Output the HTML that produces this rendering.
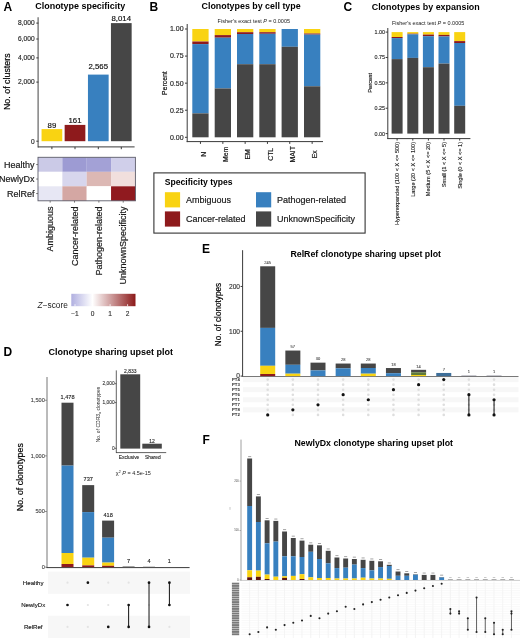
<!DOCTYPE html>
<html><head><meta charset="utf-8"><title>Clonotype figure</title>
<style>
html,body{margin:0;padding:0;background:#fff;}
body{width:520px;height:638px;overflow:hidden;}
svg{display:block;font-family:"Liberation Sans", sans-serif;filter:blur(0.3px);}
text{stroke-linejoin:round;}
text.r{}
</style></head>
<body>
<svg width="520" height="638" viewBox="0 0 520 638">
<rect x="0" y="0" width="520" height="638" fill="#ffffff"/>
<text x="3.40" y="10.80" font-size="12.0" text-anchor="start" fill="#000" font-weight="bold" >A</text>
<text x="35.30" y="9.00" font-size="8.95" text-anchor="start" fill="#000" font-weight="bold" >Clonotype specificity</text>
<line x1="38.10" y1="17.20" x2="38.10" y2="147.40" stroke="#555" stroke-width="1.1"/>
<line x1="36.30" y1="23.10" x2="38.40" y2="23.10" stroke="#3a3a3a" stroke-width="1.0"/>
<text x="34.60" y="25.40" font-size="6.6" text-anchor="end" fill="#222"  stroke="#222" stroke-width="0.141">8,000</text>
<line x1="36.30" y1="39.00" x2="38.40" y2="39.00" stroke="#3a3a3a" stroke-width="1.0"/>
<text x="34.60" y="41.30" font-size="6.6" text-anchor="end" fill="#222"  stroke="#222" stroke-width="0.141">6,000</text>
<line x1="36.30" y1="57.90" x2="38.40" y2="57.90" stroke="#3a3a3a" stroke-width="1.0"/>
<text x="34.60" y="60.20" font-size="6.6" text-anchor="end" fill="#222"  stroke="#222" stroke-width="0.141">4,000</text>
<line x1="36.30" y1="82.10" x2="38.40" y2="82.10" stroke="#3a3a3a" stroke-width="1.0"/>
<text x="34.60" y="84.40" font-size="6.6" text-anchor="end" fill="#222"  stroke="#222" stroke-width="0.141">2,000</text>
<line x1="36.30" y1="141.20" x2="38.40" y2="141.20" stroke="#3a3a3a" stroke-width="1.0"/>
<text x="34.60" y="143.50" font-size="6.6" text-anchor="end" fill="#222"  stroke="#222" stroke-width="0.141">0</text>
<text x="10.19" y="81.70" font-size="8.9" text-anchor="middle" fill="#000" stroke="#000" stroke-width="0.191" transform="rotate(-90 10.19 81.70)">No. of clusters</text>
<line x1="37.90" y1="146.90" x2="134.60" y2="146.90" stroke="#3a3a3a" stroke-width="1.0"/>
<rect x="41.55" y="129.10" width="20.70" height="12.10" fill="#F9D312" />
<line x1="51.90" y1="146.90" x2="51.90" y2="149.20" stroke="#3a3a3a" stroke-width="1.0"/>
<text x="51.90" y="127.60" font-size="7.8" text-anchor="middle" fill="#111"  stroke="#111" stroke-width="0.167">89</text>
<rect x="64.65" y="124.90" width="20.70" height="16.30" fill="#8E1A1C" />
<line x1="75.00" y1="146.90" x2="75.00" y2="149.20" stroke="#3a3a3a" stroke-width="1.0"/>
<text x="75.00" y="123.00" font-size="7.8" text-anchor="middle" fill="#111"  stroke="#111" stroke-width="0.167">161</text>
<rect x="87.95" y="74.60" width="20.70" height="66.60" fill="#3880BF" />
<line x1="98.30" y1="146.90" x2="98.30" y2="149.20" stroke="#3a3a3a" stroke-width="1.0"/>
<text x="98.30" y="68.80" font-size="7.8" text-anchor="middle" fill="#111"  stroke="#111" stroke-width="0.167">2,565</text>
<rect x="110.95" y="23.10" width="20.70" height="118.10" fill="#464646" />
<line x1="121.30" y1="146.90" x2="121.30" y2="149.20" stroke="#3a3a3a" stroke-width="1.0"/>
<text x="121.30" y="21.20" font-size="7.8" text-anchor="middle" fill="#111"  stroke="#111" stroke-width="0.167">8,014</text>
<rect x="38.00" y="157.30" width="24.40" height="14.55" fill="#cbcae7" />
<rect x="62.35" y="157.30" width="24.40" height="14.55" fill="#9d9bd3" />
<rect x="86.70" y="157.30" width="24.40" height="14.55" fill="#a3a1d6" />
<rect x="111.05" y="157.30" width="24.40" height="14.55" fill="#d0cfea" />
<rect x="38.00" y="171.80" width="24.40" height="14.55" fill="#ffffff" />
<rect x="62.35" y="171.80" width="24.40" height="14.55" fill="#d7d6ed" />
<rect x="86.70" y="171.80" width="24.40" height="14.55" fill="#dcb8b4" />
<rect x="111.05" y="171.80" width="24.40" height="14.55" fill="#f1dfdd" />
<rect x="38.00" y="186.30" width="24.40" height="14.55" fill="#e7e7f4" />
<rect x="62.35" y="186.30" width="24.40" height="14.55" fill="#d4a7a3" />
<rect x="86.70" y="186.30" width="24.40" height="14.55" fill="#ffffff" />
<rect x="111.05" y="186.30" width="24.40" height="14.55" fill="#901a1f" />
<rect x="38.00" y="157.30" width="97.40" height="43.50" fill="none" stroke="#5d5d6a" stroke-width="0.9"/>
<line x1="36.20" y1="164.55" x2="38.00" y2="164.55" stroke="#555" stroke-width="0.8"/>
<text x="34.60" y="167.75" font-size="9.0" text-anchor="end" fill="#1a1a1a"  stroke="#1a1a1a" stroke-width="0.193">Healthy</text>
<line x1="36.20" y1="179.05" x2="38.00" y2="179.05" stroke="#555" stroke-width="0.8"/>
<text x="34.60" y="182.25" font-size="9.0" text-anchor="end" fill="#1a1a1a"  stroke="#1a1a1a" stroke-width="0.193">NewlyDx</text>
<line x1="36.20" y1="193.55" x2="38.00" y2="193.55" stroke="#555" stroke-width="0.8"/>
<text x="34.60" y="196.75" font-size="9.0" text-anchor="end" fill="#1a1a1a"  stroke="#1a1a1a" stroke-width="0.193">RelRef</text>
<line x1="50.17" y1="200.80" x2="50.17" y2="202.60" stroke="#555" stroke-width="0.8"/>
<text x="53.40" y="206.40" font-size="9.0" text-anchor="end" fill="#1a1a1a" stroke="#1a1a1a" stroke-width="0.193" transform="rotate(-90 53.40 206.40)">Ambiguous</text>
<line x1="74.53" y1="200.80" x2="74.53" y2="202.60" stroke="#555" stroke-width="0.8"/>
<text x="77.75" y="206.40" font-size="9.0" text-anchor="end" fill="#1a1a1a" stroke="#1a1a1a" stroke-width="0.193" transform="rotate(-90 77.75 206.40)">Cancer-related</text>
<line x1="98.88" y1="200.80" x2="98.88" y2="202.60" stroke="#555" stroke-width="0.8"/>
<text x="102.10" y="206.40" font-size="9.0" text-anchor="end" fill="#1a1a1a" stroke="#1a1a1a" stroke-width="0.193" transform="rotate(-90 102.10 206.40)">Pathogen-related</text>
<line x1="123.23" y1="200.80" x2="123.23" y2="202.60" stroke="#555" stroke-width="0.8"/>
<text x="126.45" y="206.40" font-size="9.0" text-anchor="end" fill="#1a1a1a" stroke="#1a1a1a" stroke-width="0.193" transform="rotate(-90 126.45 206.40)">UnknownSpecificity</text>
<defs><linearGradient id="zg" x1="0" x2="1" y1="0" y2="0"><stop offset="0" stop-color="#b0afe0"/><stop offset="0.33" stop-color="#ffffff"/><stop offset="1" stop-color="#8c1a1a"/></linearGradient></defs>
<rect x="71.30" y="293.80" width="64.20" height="12.40" fill="url(#zg)" />
<line x1="75.00" y1="304.20" x2="75.00" y2="306.20" stroke="#ffffff" stroke-width="0.8"/>
<text x="75.00" y="315.60" font-size="6.6" text-anchor="middle" fill="#333"  stroke="#333" stroke-width="0.141">−1</text>
<line x1="92.60" y1="304.20" x2="92.60" y2="306.20" stroke="#ffffff" stroke-width="0.8"/>
<text x="92.60" y="315.60" font-size="6.6" text-anchor="middle" fill="#333"  stroke="#333" stroke-width="0.141">0</text>
<line x1="110.10" y1="304.20" x2="110.10" y2="306.20" stroke="#ffffff" stroke-width="0.8"/>
<text x="110.10" y="315.60" font-size="6.6" text-anchor="middle" fill="#333"  stroke="#333" stroke-width="0.141">1</text>
<line x1="127.60" y1="304.20" x2="127.60" y2="306.20" stroke="#ffffff" stroke-width="0.8"/>
<text x="127.60" y="315.60" font-size="6.6" text-anchor="middle" fill="#333"  stroke="#333" stroke-width="0.141">2</text>
<text x="37.6" y="308.2" font-size="8.3" fill="#1a1a1a"><tspan font-style="italic">Z</tspan>−score</text>
<text x="149.60" y="10.80" font-size="12.0" text-anchor="start" fill="#000" font-weight="bold" >B</text>
<text x="201.50" y="9.40" font-size="8.9" text-anchor="start" fill="#000" font-weight="bold" >Clonotypes by cell type</text>
<text x="217.6" y="23.4" font-size="5.5" fill="#1a1a1a">Fisher's exact test <tspan font-style="italic">P</tspan> = 0.0005</text>
<line x1="187.20" y1="24.00" x2="187.20" y2="142.10" stroke="#3a3a3a" stroke-width="1.0"/>
<line x1="185.00" y1="29.00" x2="187.20" y2="29.00" stroke="#3a3a3a" stroke-width="1.0"/>
<text x="183.60" y="31.40" font-size="7.0" text-anchor="end" fill="#222"  stroke="#222" stroke-width="0.150">1.00</text>
<line x1="185.00" y1="56.08" x2="187.20" y2="56.08" stroke="#3a3a3a" stroke-width="1.0"/>
<text x="183.60" y="58.48" font-size="7.0" text-anchor="end" fill="#222"  stroke="#222" stroke-width="0.150">0.75</text>
<line x1="185.00" y1="83.15" x2="187.20" y2="83.15" stroke="#3a3a3a" stroke-width="1.0"/>
<text x="183.60" y="85.55" font-size="7.0" text-anchor="end" fill="#222"  stroke="#222" stroke-width="0.150">0.50</text>
<line x1="185.00" y1="110.23" x2="187.20" y2="110.23" stroke="#3a3a3a" stroke-width="1.0"/>
<text x="183.60" y="112.63" font-size="7.0" text-anchor="end" fill="#222"  stroke="#222" stroke-width="0.150">0.25</text>
<line x1="185.00" y1="137.30" x2="187.20" y2="137.30" stroke="#3a3a3a" stroke-width="1.0"/>
<text x="183.60" y="139.70" font-size="7.0" text-anchor="end" fill="#222"  stroke="#222" stroke-width="0.150">0.00</text>
<text x="167.37" y="83.10" font-size="6.9" text-anchor="middle" fill="#000" stroke="#000" stroke-width="0.148" transform="rotate(-90 167.37 83.10)">Percent</text>
<line x1="186.70" y1="141.60" x2="323.00" y2="141.60" stroke="#3a3a3a" stroke-width="1.0"/>
<rect x="192.30" y="29.00" width="16.30" height="12.50" fill="#F9D312" />
<rect x="192.30" y="41.50" width="16.30" height="2.60" fill="#8E1A1C" />
<rect x="192.30" y="44.10" width="16.30" height="69.27" fill="#3880BF" />
<rect x="192.30" y="113.37" width="16.30" height="23.93" fill="#464646" />
<line x1="200.45" y1="141.60" x2="200.45" y2="143.90" stroke="#3a3a3a" stroke-width="1.0"/>
<text x="205.62" y="154.30" font-size="6.9" text-anchor="middle" fill="#111" stroke="#111" stroke-width="0.148" transform="rotate(-90 205.62 154.30)">N</text>
<rect x="214.70" y="29.00" width="16.30" height="6.10" fill="#F9D312" />
<rect x="214.70" y="35.10" width="16.30" height="2.60" fill="#8E1A1C" />
<rect x="214.70" y="37.70" width="16.30" height="50.76" fill="#3880BF" />
<rect x="214.70" y="88.46" width="16.30" height="48.84" fill="#464646" />
<line x1="222.85" y1="141.60" x2="222.85" y2="143.90" stroke="#3a3a3a" stroke-width="1.0"/>
<text x="228.02" y="154.30" font-size="6.9" text-anchor="middle" fill="#111" stroke="#111" stroke-width="0.148" transform="rotate(-90 228.02 154.30)">Mem</text>
<rect x="237.00" y="29.00" width="16.30" height="3.19" fill="#F9D312" />
<rect x="237.00" y="32.19" width="16.30" height="1.81" fill="#8E1A1C" />
<rect x="237.00" y="34.00" width="16.30" height="30.19" fill="#3880BF" />
<rect x="237.00" y="64.20" width="16.30" height="73.10" fill="#464646" />
<line x1="245.15" y1="141.60" x2="245.15" y2="143.90" stroke="#3a3a3a" stroke-width="1.0"/>
<text x="250.32" y="154.30" font-size="6.9" text-anchor="middle" fill="#111" stroke="#111" stroke-width="0.148" transform="rotate(-90 250.32 154.30)">EM</text>
<rect x="259.30" y="29.00" width="16.30" height="3.19" fill="#F9D312" />
<rect x="259.30" y="32.19" width="16.30" height="1.60" fill="#8E1A1C" />
<rect x="259.30" y="33.80" width="16.30" height="30.40" fill="#3880BF" />
<rect x="259.30" y="64.20" width="16.30" height="73.10" fill="#464646" />
<line x1="267.45" y1="141.60" x2="267.45" y2="143.90" stroke="#3a3a3a" stroke-width="1.0"/>
<text x="272.62" y="154.30" font-size="6.9" text-anchor="middle" fill="#111" stroke="#111" stroke-width="0.148" transform="rotate(-90 272.62 154.30)">CTL</text>
<rect x="281.60" y="29.00" width="16.30" height="17.79" fill="#3880BF" />
<rect x="281.60" y="46.79" width="16.30" height="90.51" fill="#464646" />
<line x1="289.75" y1="141.60" x2="289.75" y2="143.90" stroke="#3a3a3a" stroke-width="1.0"/>
<text x="294.92" y="154.30" font-size="6.9" text-anchor="middle" fill="#111" stroke="#111" stroke-width="0.148" transform="rotate(-90 294.92 154.30)">MAIT</text>
<rect x="304.00" y="29.00" width="16.30" height="4.51" fill="#F9D312" />
<rect x="304.00" y="33.51" width="16.30" height="1.09" fill="#8E1A1C" />
<rect x="304.00" y="34.60" width="16.30" height="51.70" fill="#3880BF" />
<rect x="304.00" y="86.30" width="16.30" height="51.00" fill="#464646" />
<line x1="312.15" y1="141.60" x2="312.15" y2="143.90" stroke="#3a3a3a" stroke-width="1.0"/>
<text x="317.32" y="154.30" font-size="6.9" text-anchor="middle" fill="#111" stroke="#111" stroke-width="0.148" transform="rotate(-90 317.32 154.30)">Ex</text>
<text x="343.40" y="10.80" font-size="12.0" text-anchor="start" fill="#000" font-weight="bold" >C</text>
<text x="371.70" y="9.80" font-size="8.94" text-anchor="start" fill="#000" font-weight="bold" >Clonotypes by expansion</text>
<text x="391.9" y="25.0" font-size="5.5" fill="#1a1a1a">Fisher's exact test <tspan font-style="italic">P</tspan> = 0.0005</text>
<line x1="387.80" y1="28.00" x2="387.80" y2="139.00" stroke="#3a3a3a" stroke-width="1.0"/>
<line x1="385.60" y1="32.10" x2="387.80" y2="32.10" stroke="#3a3a3a" stroke-width="1.0"/>
<text x="384.90" y="34.00" font-size="5.4" text-anchor="end" fill="#222"  stroke="#222" stroke-width="0.116">1.00</text>
<line x1="385.60" y1="57.47" x2="387.80" y2="57.47" stroke="#3a3a3a" stroke-width="1.0"/>
<text x="384.90" y="59.37" font-size="5.4" text-anchor="end" fill="#222"  stroke="#222" stroke-width="0.116">0.75</text>
<line x1="385.60" y1="82.85" x2="387.80" y2="82.85" stroke="#3a3a3a" stroke-width="1.0"/>
<text x="384.90" y="84.75" font-size="5.4" text-anchor="end" fill="#222"  stroke="#222" stroke-width="0.116">0.50</text>
<line x1="385.60" y1="108.22" x2="387.80" y2="108.22" stroke="#3a3a3a" stroke-width="1.0"/>
<text x="384.90" y="110.12" font-size="5.4" text-anchor="end" fill="#222"  stroke="#222" stroke-width="0.116">0.25</text>
<line x1="385.60" y1="133.60" x2="387.80" y2="133.60" stroke="#3a3a3a" stroke-width="1.0"/>
<text x="384.90" y="135.50" font-size="5.4" text-anchor="end" fill="#222"  stroke="#222" stroke-width="0.116">0.00</text>
<text x="371.98" y="82.80" font-size="5.8" text-anchor="middle" fill="#000" stroke="#000" stroke-width="0.124" transform="rotate(-90 371.98 82.80)">Percent</text>
<line x1="387.30" y1="138.60" x2="470.40" y2="138.60" stroke="#3a3a3a" stroke-width="1.0"/>
<rect x="391.60" y="32.10" width="11.00" height="4.90" fill="#F9D312" />
<rect x="391.60" y="37.00" width="11.00" height="1.10" fill="#8E1A1C" />
<rect x="391.60" y="38.10" width="11.00" height="21.00" fill="#3880BF" />
<rect x="391.60" y="59.10" width="11.00" height="74.50" fill="#464646" />
<line x1="397.10" y1="138.60" x2="397.10" y2="140.60" stroke="#3a3a3a" stroke-width="1.0"/>
<text x="399.10" y="141.90" font-size="5.6" text-anchor="end" fill="#222" stroke="#222" stroke-width="0.120" transform="rotate(-90 399.10 141.90)">Hyperexpanded (100 &lt; X &lt;= 500)</text>
<rect x="407.30" y="32.10" width="11.00" height="1.60" fill="#F9D312" />
<rect x="407.30" y="33.70" width="11.00" height="0.63" fill="#8E1A1C" />
<rect x="407.30" y="34.33" width="11.00" height="23.57" fill="#3880BF" />
<rect x="407.30" y="57.90" width="11.00" height="75.70" fill="#464646" />
<line x1="412.80" y1="138.60" x2="412.80" y2="140.60" stroke="#3a3a3a" stroke-width="1.0"/>
<text x="414.80" y="141.90" font-size="5.6" text-anchor="end" fill="#222" stroke="#222" stroke-width="0.120" transform="rotate(-90 414.80 141.90)">Large (20 &lt; X &lt;= 100)</text>
<rect x="422.90" y="32.10" width="11.00" height="2.50" fill="#F9D312" />
<rect x="422.90" y="34.60" width="11.00" height="1.60" fill="#8E1A1C" />
<rect x="422.90" y="36.20" width="11.00" height="31.00" fill="#3880BF" />
<rect x="422.90" y="67.20" width="11.00" height="66.40" fill="#464646" />
<line x1="428.40" y1="138.60" x2="428.40" y2="140.60" stroke="#3a3a3a" stroke-width="1.0"/>
<text x="430.40" y="141.90" font-size="5.6" text-anchor="end" fill="#222" stroke="#222" stroke-width="0.120" transform="rotate(-90 430.40 141.90)">Medium (5 &lt; X &lt;= 20)</text>
<rect x="438.50" y="32.10" width="11.00" height="2.80" fill="#F9D312" />
<rect x="438.50" y="34.90" width="11.00" height="1.59" fill="#8E1A1C" />
<rect x="438.50" y="36.49" width="11.00" height="27.10" fill="#3880BF" />
<rect x="438.50" y="63.60" width="11.00" height="70.00" fill="#464646" />
<line x1="444.00" y1="138.60" x2="444.00" y2="140.60" stroke="#3a3a3a" stroke-width="1.0"/>
<text x="446.00" y="141.90" font-size="5.6" text-anchor="end" fill="#222" stroke="#222" stroke-width="0.120" transform="rotate(-90 446.00 141.90)">Small (1 &lt; X &lt;= 5)</text>
<rect x="454.20" y="32.10" width="11.00" height="9.00" fill="#F9D312" />
<rect x="454.20" y="41.10" width="11.00" height="1.90" fill="#8E1A1C" />
<rect x="454.20" y="43.00" width="11.00" height="62.80" fill="#3880BF" />
<rect x="454.20" y="105.80" width="11.00" height="27.80" fill="#464646" />
<line x1="459.70" y1="138.60" x2="459.70" y2="140.60" stroke="#3a3a3a" stroke-width="1.0"/>
<text x="461.70" y="141.90" font-size="5.6" text-anchor="end" fill="#222" stroke="#222" stroke-width="0.120" transform="rotate(-90 461.70 141.90)">Single (0 &lt; X &lt;= 1)</text>
<rect x="153.9" y="172.9" width="211.2" height="60.2" fill="none" stroke="#333" stroke-width="1.1"/>
<text x="164.80" y="184.60" font-size="8.6" text-anchor="start" fill="#000" font-weight="bold" >Specificity types</text>
<rect x="164.90" y="192.20" width="15.20" height="15.20" fill="#F9D312" />
<text x="185.90" y="203.00" font-size="9.0" text-anchor="start" fill="#1a1a1a"  stroke="#1a1a1a" stroke-width="0.193">Ambiguous</text>
<rect x="164.90" y="211.40" width="15.20" height="15.20" fill="#8E1A1C" />
<text x="185.90" y="222.20" font-size="9.0" text-anchor="start" fill="#1a1a1a"  stroke="#1a1a1a" stroke-width="0.193">Cancer-related</text>
<rect x="256.00" y="192.20" width="15.20" height="15.20" fill="#3880BF" />
<text x="277.00" y="203.00" font-size="9.0" text-anchor="start" fill="#1a1a1a"  stroke="#1a1a1a" stroke-width="0.193">Pathogen-related</text>
<rect x="256.00" y="211.40" width="15.20" height="15.20" fill="#464646" />
<text x="277.00" y="222.20" font-size="9.0" text-anchor="start" fill="#1a1a1a"  stroke="#1a1a1a" stroke-width="0.193">UnknownSpecificity</text>
<text x="3.60" y="356.40" font-size="12.0" text-anchor="start" fill="#000" font-weight="bold" >D</text>
<text x="48.60" y="355.30" font-size="9.0" text-anchor="start" fill="#000" font-weight="bold" >Clonotype sharing upset plot</text>
<line x1="47.00" y1="377.00" x2="47.00" y2="568.00" stroke="#777" stroke-width="1.0"/>
<line x1="45.00" y1="400.25" x2="47.00" y2="400.25" stroke="#777" stroke-width="0.8"/>
<text x="44.80" y="402.25" font-size="5.6" text-anchor="end" fill="#444"  stroke="#444" stroke-width="0.120">1,500</text>
<line x1="45.00" y1="455.87" x2="47.00" y2="455.87" stroke="#777" stroke-width="0.8"/>
<text x="44.80" y="457.87" font-size="5.6" text-anchor="end" fill="#444"  stroke="#444" stroke-width="0.120">1,000</text>
<line x1="45.00" y1="511.49" x2="47.00" y2="511.49" stroke="#777" stroke-width="0.8"/>
<text x="44.80" y="513.49" font-size="5.6" text-anchor="end" fill="#444"  stroke="#444" stroke-width="0.120">500</text>
<line x1="45.00" y1="567.10" x2="47.00" y2="567.10" stroke="#777" stroke-width="0.8"/>
<text x="44.80" y="569.10" font-size="5.6" text-anchor="end" fill="#444"  stroke="#444" stroke-width="0.120">0</text>
<text x="23.25" y="477.20" font-size="8.8" text-anchor="middle" fill="#000" stroke="#000" stroke-width="0.189" transform="rotate(-90 23.25 477.20)">No. of clonotypes</text>
<line x1="46.50" y1="567.60" x2="189.60" y2="567.60" stroke="#3a3a3a" stroke-width="1.0"/>
<rect x="61.50" y="402.70" width="12.00" height="62.90" fill="#464646" />
<rect x="61.50" y="465.60" width="12.00" height="87.40" fill="#3880BF" />
<rect x="61.50" y="553.00" width="12.00" height="11.00" fill="#F9D312" />
<rect x="61.50" y="564.00" width="12.00" height="3.10" fill="#8E1A1C" />
<text x="67.50" y="398.80" font-size="5.6" text-anchor="middle" fill="#222"  stroke="#222" stroke-width="0.120">1,478</text>
<rect x="82.20" y="485.12" width="12.00" height="26.98" fill="#464646" />
<rect x="82.20" y="512.10" width="12.00" height="45.60" fill="#3880BF" />
<rect x="82.20" y="557.70" width="12.00" height="7.70" fill="#F9D312" />
<rect x="82.20" y="565.40" width="12.00" height="1.70" fill="#8E1A1C" />
<text x="88.20" y="481.40" font-size="5.6" text-anchor="middle" fill="#222"  stroke="#222" stroke-width="0.120">737</text>
<rect x="102.10" y="520.61" width="12.00" height="17.09" fill="#464646" />
<rect x="102.10" y="537.70" width="12.00" height="24.90" fill="#3880BF" />
<rect x="102.10" y="562.60" width="12.00" height="3.20" fill="#F9D312" />
<rect x="102.10" y="565.80" width="12.00" height="1.30" fill="#8E1A1C" />
<text x="108.10" y="516.60" font-size="5.6" text-anchor="middle" fill="#222"  stroke="#222" stroke-width="0.120">418</text>
<rect x="122.60" y="566.32" width="12.00" height="0.78" fill="#7a7a7a" />
<text x="128.60" y="563.00" font-size="5.6" text-anchor="middle" fill="#222"  stroke="#222" stroke-width="0.120">7</text>
<rect x="143.00" y="566.66" width="12.00" height="0.44" fill="#7a7a7a" />
<text x="149.00" y="563.00" font-size="5.6" text-anchor="middle" fill="#222"  stroke="#222" stroke-width="0.120">4</text>
<rect x="163.40" y="566.99" width="12.00" height="0.11" fill="#7a7a7a" />
<text x="169.40" y="563.00" font-size="5.6" text-anchor="middle" fill="#222"  stroke="#222" stroke-width="0.120">1</text>
<rect x="48.00" y="571.60" width="142.00" height="22.20" fill="#f7f7f7" />
<rect x="48.00" y="615.70" width="142.00" height="22.30" fill="#f7f7f7" />
<text x="33.20" y="584.80" font-size="6.1" text-anchor="middle" fill="#1a1a1a"  stroke="#1a1a1a" stroke-width="0.131">Healthy</text>
<text x="33.20" y="607.10" font-size="6.1" text-anchor="middle" fill="#1a1a1a"  stroke="#1a1a1a" stroke-width="0.131">NewlyDx</text>
<text x="33.20" y="629.00" font-size="6.1" text-anchor="middle" fill="#1a1a1a"  stroke="#1a1a1a" stroke-width="0.131">RelRef</text>
<circle cx="67.50" cy="582.70" r="1.1" fill="#e3e3e3"/>
<circle cx="67.50" cy="626.90" r="1.1" fill="#e3e3e3"/>
<circle cx="67.50" cy="605.00" r="1.35" fill="#111"/>
<circle cx="87.88" cy="605.00" r="1.1" fill="#e3e3e3"/>
<circle cx="87.88" cy="626.90" r="1.1" fill="#e3e3e3"/>
<circle cx="87.88" cy="582.70" r="1.35" fill="#111"/>
<circle cx="108.26" cy="582.70" r="1.1" fill="#e3e3e3"/>
<circle cx="108.26" cy="605.00" r="1.1" fill="#e3e3e3"/>
<circle cx="108.26" cy="626.90" r="1.35" fill="#111"/>
<circle cx="128.64" cy="582.70" r="1.1" fill="#e3e3e3"/>
<line x1="128.64" y1="605.00" x2="128.64" y2="626.90" stroke="#111" stroke-width="1.0"/>
<circle cx="128.64" cy="605.00" r="1.35" fill="#111"/>
<circle cx="128.64" cy="626.90" r="1.35" fill="#111"/>
<circle cx="149.02" cy="605.00" r="1.1" fill="#e3e3e3"/>
<line x1="149.02" y1="582.70" x2="149.02" y2="626.90" stroke="#111" stroke-width="1.0"/>
<circle cx="149.02" cy="582.70" r="1.35" fill="#111"/>
<circle cx="149.02" cy="626.90" r="1.35" fill="#111"/>
<circle cx="169.40" cy="626.90" r="1.1" fill="#e3e3e3"/>
<line x1="169.40" y1="582.70" x2="169.40" y2="605.00" stroke="#111" stroke-width="1.0"/>
<circle cx="169.40" cy="582.70" r="1.35" fill="#111"/>
<circle cx="169.40" cy="605.00" r="1.35" fill="#111"/>
<line x1="116.30" y1="370.40" x2="116.30" y2="452.90" stroke="#3a3a3a" stroke-width="0.8"/>
<line x1="116.00" y1="452.60" x2="166.20" y2="452.60" stroke="#3a3a3a" stroke-width="0.8"/>
<line x1="114.80" y1="383.70" x2="116.30" y2="383.70" stroke="#3a3a3a" stroke-width="0.8"/>
<text x="114.60" y="385.40" font-size="4.8" text-anchor="end" fill="#333"  stroke="#333" stroke-width="0.103">2,000</text>
<line x1="114.80" y1="402.60" x2="116.30" y2="402.60" stroke="#3a3a3a" stroke-width="0.8"/>
<text x="114.60" y="404.30" font-size="4.8" text-anchor="end" fill="#333"  stroke="#333" stroke-width="0.103">1,000</text>
<line x1="114.80" y1="448.30" x2="116.30" y2="448.30" stroke="#3a3a3a" stroke-width="0.8"/>
<text x="114.60" y="450.00" font-size="4.8" text-anchor="end" fill="#333"  stroke="#333" stroke-width="0.103">0</text>
<rect x="120.30" y="374.30" width="19.90" height="74.30" fill="#464646" />
<rect x="142.30" y="443.70" width="19.50" height="4.90" fill="#464646" />
<text x="130.25" y="373.10" font-size="5.0" text-anchor="middle" fill="#222"  stroke="#222" stroke-width="0.107">2,833</text>
<text x="152.05" y="442.50" font-size="5.0" text-anchor="middle" fill="#222"  stroke="#222" stroke-width="0.107">12</text>
<text x="129.00" y="458.90" font-size="4.9" text-anchor="middle" fill="#222"  stroke="#222" stroke-width="0.105">Exclusive</text>
<text x="152.80" y="458.90" font-size="4.9" text-anchor="middle" fill="#222"  stroke="#222" stroke-width="0.105">Shared</text>
<text x="99.6" y="414.5" font-size="5.0" text-anchor="middle" fill="#222" transform="rotate(-90 99.6 414.5)">No. of CDR3<tspan font-size="3.4" dy="1">α</tspan><tspan dy="-1"> clonotypes</tspan></text>
<text x="115.8" y="475.2" font-size="5.5" fill="#222">χ<tspan font-size="3.6" dy="-2">2</tspan><tspan dy="2" font-style="italic"> P</tspan> = 4.5e-15</text>
<text x="202.00" y="253.30" font-size="12.0" text-anchor="start" fill="#000" font-weight="bold" >E</text>
<text x="290.40" y="256.60" font-size="8.8" text-anchor="start" fill="#000" font-weight="bold" >RelRef clonotype sharing upset plot</text>
<line x1="242.60" y1="250.20" x2="242.60" y2="376.60" stroke="#3a3a3a" stroke-width="1.0"/>
<line x1="240.60" y1="286.46" x2="242.60" y2="286.46" stroke="#3a3a3a" stroke-width="1.0"/>
<text x="240.00" y="288.76" font-size="6.6" text-anchor="end" fill="#333"  stroke="#333" stroke-width="0.141">200</text>
<line x1="240.60" y1="331.28" x2="242.60" y2="331.28" stroke="#3a3a3a" stroke-width="1.0"/>
<text x="240.00" y="333.58" font-size="6.6" text-anchor="end" fill="#333"  stroke="#333" stroke-width="0.141">100</text>
<line x1="240.60" y1="376.10" x2="242.60" y2="376.10" stroke="#3a3a3a" stroke-width="1.0"/>
<text x="240.00" y="378.40" font-size="6.6" text-anchor="end" fill="#333"  stroke="#333" stroke-width="0.141">0</text>
<text x="220.94" y="314.50" font-size="8.2" text-anchor="middle" fill="#000" stroke="#000" stroke-width="0.176" transform="rotate(-90 220.94 314.50)">No. of clonotypes</text>
<line x1="242.10" y1="376.50" x2="518.50" y2="376.50" stroke="#555" stroke-width="0.8"/>
<rect x="260.20" y="266.29" width="15.00" height="61.61" fill="#464646" />
<rect x="260.20" y="327.90" width="15.00" height="37.90" fill="#3880BF" />
<rect x="260.20" y="365.80" width="15.00" height="8.20" fill="#F9D312" />
<rect x="260.20" y="374.00" width="15.00" height="2.10" fill="#8E1A1C" />
<text x="267.70" y="264.09" font-size="4.0" text-anchor="middle" fill="#444"  stroke="#444" stroke-width="0.086">245</text>
<rect x="285.35" y="350.55" width="15.00" height="14.25" fill="#464646" />
<rect x="285.35" y="364.80" width="15.00" height="8.90" fill="#3880BF" />
<rect x="285.35" y="373.70" width="15.00" height="2.40" fill="#F9D312" />
<text x="292.85" y="348.35" font-size="4.0" text-anchor="middle" fill="#444"  stroke="#444" stroke-width="0.086">57</text>
<rect x="310.50" y="362.65" width="15.00" height="7.75" fill="#464646" />
<rect x="310.50" y="370.40" width="15.00" height="5.70" fill="#3880BF" />
<text x="318.00" y="360.45" font-size="4.0" text-anchor="middle" fill="#444"  stroke="#444" stroke-width="0.086">30</text>
<rect x="335.65" y="363.55" width="15.00" height="4.75" fill="#464646" />
<rect x="335.65" y="368.30" width="15.00" height="7.80" fill="#3880BF" />
<text x="343.15" y="361.35" font-size="4.0" text-anchor="middle" fill="#444"  stroke="#444" stroke-width="0.086">28</text>
<rect x="360.80" y="363.55" width="15.00" height="4.45" fill="#464646" />
<rect x="360.80" y="368.00" width="15.00" height="5.70" fill="#3880BF" />
<rect x="360.80" y="373.70" width="15.00" height="2.40" fill="#F9D312" />
<text x="368.30" y="361.35" font-size="4.0" text-anchor="middle" fill="#444"  stroke="#444" stroke-width="0.086">28</text>
<rect x="385.95" y="368.03" width="15.00" height="5.17" fill="#464646" />
<rect x="385.95" y="373.20" width="15.00" height="2.90" fill="#3880BF" />
<text x="393.45" y="365.83" font-size="4.0" text-anchor="middle" fill="#444"  stroke="#444" stroke-width="0.086">18</text>
<rect x="411.10" y="369.83" width="15.00" height="2.47" fill="#464646" />
<rect x="411.10" y="372.30" width="15.00" height="2.70" fill="#5f7a3a" />
<rect x="411.10" y="375.00" width="15.00" height="1.10" fill="#F9D312" />
<text x="418.60" y="367.63" font-size="4.0" text-anchor="middle" fill="#444"  stroke="#444" stroke-width="0.086">14</text>
<rect x="436.25" y="372.96" width="15.00" height="3.14" fill="#3d6e99" />
<text x="443.75" y="370.76" font-size="4.0" text-anchor="middle" fill="#444"  stroke="#444" stroke-width="0.086">7</text>
<rect x="461.40" y="375.65" width="15.00" height="0.45" fill="#667" />
<text x="468.90" y="373.45" font-size="4.0" text-anchor="middle" fill="#444"  stroke="#444" stroke-width="0.086">1</text>
<rect x="486.55" y="375.65" width="15.00" height="0.45" fill="#667" />
<text x="494.05" y="373.45" font-size="4.0" text-anchor="middle" fill="#444"  stroke="#444" stroke-width="0.086">1</text>
<rect x="243.00" y="377.08" width="275.50" height="5.04" fill="#f7f7f7" />
<rect x="243.00" y="387.16" width="275.50" height="5.04" fill="#f7f7f7" />
<rect x="243.00" y="397.24" width="275.50" height="5.04" fill="#f7f7f7" />
<rect x="243.00" y="407.32" width="275.50" height="5.04" fill="#f7f7f7" />
<text x="239.80" y="381.20" font-size="4.3" text-anchor="end" fill="#222" font-weight="bold" >PT4</text>
<text x="239.80" y="386.24" font-size="4.3" text-anchor="end" fill="#222" font-weight="bold" >PT3</text>
<text x="239.80" y="391.28" font-size="4.3" text-anchor="end" fill="#222" font-weight="bold" >PT5</text>
<text x="239.80" y="396.32" font-size="4.3" text-anchor="end" fill="#222" font-weight="bold" >PT6</text>
<text x="239.80" y="401.36" font-size="4.3" text-anchor="end" fill="#222" font-weight="bold" >PT1</text>
<text x="239.80" y="406.40" font-size="4.3" text-anchor="end" fill="#222" font-weight="bold" >PT7</text>
<text x="239.80" y="411.44" font-size="4.3" text-anchor="end" fill="#222" font-weight="bold" >PT8</text>
<text x="239.80" y="416.48" font-size="4.3" text-anchor="end" fill="#222" font-weight="bold" >PT2</text>
<circle cx="267.70" cy="379.60" r="1.3" fill="#dedede"/>
<circle cx="267.70" cy="384.64" r="1.3" fill="#dedede"/>
<circle cx="267.70" cy="389.68" r="1.3" fill="#dedede"/>
<circle cx="267.70" cy="394.72" r="1.3" fill="#dedede"/>
<circle cx="267.70" cy="399.76" r="1.3" fill="#dedede"/>
<circle cx="267.70" cy="404.80" r="1.3" fill="#dedede"/>
<circle cx="267.70" cy="409.84" r="1.3" fill="#dedede"/>
<circle cx="267.70" cy="414.88" r="1.6" fill="#111"/>
<circle cx="292.85" cy="379.60" r="1.3" fill="#dedede"/>
<circle cx="292.85" cy="384.64" r="1.3" fill="#dedede"/>
<circle cx="292.85" cy="389.68" r="1.3" fill="#dedede"/>
<circle cx="292.85" cy="394.72" r="1.3" fill="#dedede"/>
<circle cx="292.85" cy="399.76" r="1.3" fill="#dedede"/>
<circle cx="292.85" cy="404.80" r="1.3" fill="#dedede"/>
<circle cx="292.85" cy="414.88" r="1.3" fill="#dedede"/>
<circle cx="292.85" cy="409.84" r="1.6" fill="#111"/>
<circle cx="318.00" cy="379.60" r="1.3" fill="#dedede"/>
<circle cx="318.00" cy="384.64" r="1.3" fill="#dedede"/>
<circle cx="318.00" cy="389.68" r="1.3" fill="#dedede"/>
<circle cx="318.00" cy="394.72" r="1.3" fill="#dedede"/>
<circle cx="318.00" cy="399.76" r="1.3" fill="#dedede"/>
<circle cx="318.00" cy="409.84" r="1.3" fill="#dedede"/>
<circle cx="318.00" cy="414.88" r="1.3" fill="#dedede"/>
<circle cx="318.00" cy="404.80" r="1.6" fill="#111"/>
<circle cx="343.15" cy="379.60" r="1.3" fill="#dedede"/>
<circle cx="343.15" cy="384.64" r="1.3" fill="#dedede"/>
<circle cx="343.15" cy="389.68" r="1.3" fill="#dedede"/>
<circle cx="343.15" cy="399.76" r="1.3" fill="#dedede"/>
<circle cx="343.15" cy="404.80" r="1.3" fill="#dedede"/>
<circle cx="343.15" cy="409.84" r="1.3" fill="#dedede"/>
<circle cx="343.15" cy="414.88" r="1.3" fill="#dedede"/>
<circle cx="343.15" cy="394.72" r="1.6" fill="#111"/>
<circle cx="368.30" cy="379.60" r="1.3" fill="#dedede"/>
<circle cx="368.30" cy="384.64" r="1.3" fill="#dedede"/>
<circle cx="368.30" cy="389.68" r="1.3" fill="#dedede"/>
<circle cx="368.30" cy="394.72" r="1.3" fill="#dedede"/>
<circle cx="368.30" cy="404.80" r="1.3" fill="#dedede"/>
<circle cx="368.30" cy="409.84" r="1.3" fill="#dedede"/>
<circle cx="368.30" cy="414.88" r="1.3" fill="#dedede"/>
<circle cx="368.30" cy="399.76" r="1.6" fill="#111"/>
<circle cx="393.45" cy="379.60" r="1.3" fill="#dedede"/>
<circle cx="393.45" cy="384.64" r="1.3" fill="#dedede"/>
<circle cx="393.45" cy="394.72" r="1.3" fill="#dedede"/>
<circle cx="393.45" cy="399.76" r="1.3" fill="#dedede"/>
<circle cx="393.45" cy="404.80" r="1.3" fill="#dedede"/>
<circle cx="393.45" cy="409.84" r="1.3" fill="#dedede"/>
<circle cx="393.45" cy="414.88" r="1.3" fill="#dedede"/>
<circle cx="393.45" cy="389.68" r="1.6" fill="#111"/>
<circle cx="418.60" cy="379.60" r="1.3" fill="#dedede"/>
<circle cx="418.60" cy="389.68" r="1.3" fill="#dedede"/>
<circle cx="418.60" cy="394.72" r="1.3" fill="#dedede"/>
<circle cx="418.60" cy="399.76" r="1.3" fill="#dedede"/>
<circle cx="418.60" cy="404.80" r="1.3" fill="#dedede"/>
<circle cx="418.60" cy="409.84" r="1.3" fill="#dedede"/>
<circle cx="418.60" cy="414.88" r="1.3" fill="#dedede"/>
<circle cx="418.60" cy="384.64" r="1.6" fill="#111"/>
<circle cx="443.75" cy="384.64" r="1.3" fill="#dedede"/>
<circle cx="443.75" cy="389.68" r="1.3" fill="#dedede"/>
<circle cx="443.75" cy="394.72" r="1.3" fill="#dedede"/>
<circle cx="443.75" cy="399.76" r="1.3" fill="#dedede"/>
<circle cx="443.75" cy="404.80" r="1.3" fill="#dedede"/>
<circle cx="443.75" cy="409.84" r="1.3" fill="#dedede"/>
<circle cx="443.75" cy="414.88" r="1.3" fill="#dedede"/>
<circle cx="443.75" cy="379.60" r="1.6" fill="#111"/>
<circle cx="468.90" cy="379.60" r="1.3" fill="#dedede"/>
<circle cx="468.90" cy="384.64" r="1.3" fill="#dedede"/>
<circle cx="468.90" cy="389.68" r="1.3" fill="#dedede"/>
<circle cx="468.90" cy="399.76" r="1.3" fill="#dedede"/>
<circle cx="468.90" cy="404.80" r="1.3" fill="#dedede"/>
<circle cx="468.90" cy="409.84" r="1.3" fill="#dedede"/>
<line x1="468.90" y1="394.72" x2="468.90" y2="414.88" stroke="#111" stroke-width="1.0"/>
<circle cx="468.90" cy="394.72" r="1.6" fill="#111"/>
<circle cx="468.90" cy="414.88" r="1.6" fill="#111"/>
<circle cx="494.05" cy="379.60" r="1.3" fill="#dedede"/>
<circle cx="494.05" cy="384.64" r="1.3" fill="#dedede"/>
<circle cx="494.05" cy="389.68" r="1.3" fill="#dedede"/>
<circle cx="494.05" cy="394.72" r="1.3" fill="#dedede"/>
<circle cx="494.05" cy="404.80" r="1.3" fill="#dedede"/>
<circle cx="494.05" cy="409.84" r="1.3" fill="#dedede"/>
<line x1="494.05" y1="399.76" x2="494.05" y2="414.88" stroke="#111" stroke-width="1.0"/>
<circle cx="494.05" cy="399.76" r="1.6" fill="#111"/>
<circle cx="494.05" cy="414.88" r="1.6" fill="#111"/>
<text x="202.40" y="444.20" font-size="12.0" text-anchor="start" fill="#000" font-weight="bold" >F</text>
<text x="294.50" y="445.90" font-size="8.75" text-anchor="start" fill="#000" font-weight="bold" >NewlyDx clonotype sharing upset plot</text>
<line x1="241.00" y1="439.60" x2="241.00" y2="580.50" stroke="#888" stroke-width="0.8"/>
<line x1="239.50" y1="481.10" x2="241.00" y2="481.10" stroke="#888" stroke-width="0.6"/>
<text x="238.60" y="482.00" font-size="2.6" text-anchor="end" fill="#777"  stroke="#777" stroke-width="0.056">200</text>
<line x1="239.50" y1="530.50" x2="241.00" y2="530.50" stroke="#888" stroke-width="0.6"/>
<text x="238.60" y="531.40" font-size="2.6" text-anchor="end" fill="#777"  stroke="#777" stroke-width="0.056">100</text>
<line x1="239.50" y1="580.00" x2="241.00" y2="580.00" stroke="#888" stroke-width="0.6"/>
<text x="238.60" y="580.90" font-size="2.6" text-anchor="end" fill="#777"  stroke="#777" stroke-width="0.056">0</text>
<rect x="229.60" y="507.00" width="0.80" height="2.80" fill="#bbb" />
<line x1="240.80" y1="580.40" x2="520.00" y2="580.40" stroke="#aaa" stroke-width="0.6"/>
<rect x="247.20" y="458.50" width="4.90" height="47.50" fill="#464646" />
<rect x="247.20" y="506.00" width="4.90" height="64.30" fill="#3880BF" />
<rect x="247.20" y="570.30" width="4.90" height="7.00" fill="#F9D312" />
<rect x="247.20" y="577.30" width="4.90" height="2.70" fill="#5e1310" />
<text x="249.65" y="457.60" font-size="2.0" text-anchor="middle" fill="#000"  stroke="#000" stroke-width="0.043"></text>
<rect x="248.10" y="456.20" width="3.10" height="0.9" fill="#999"/>
<rect x="255.93" y="496.40" width="4.90" height="25.60" fill="#464646" />
<rect x="255.93" y="522.00" width="4.90" height="48.60" fill="#3880BF" />
<rect x="255.93" y="570.60" width="4.90" height="6.20" fill="#F9D312" />
<rect x="255.93" y="576.80" width="4.90" height="3.20" fill="#5e1310" />
<text x="258.38" y="495.50" font-size="2.0" text-anchor="middle" fill="#000"  stroke="#000" stroke-width="0.043"></text>
<rect x="256.83" y="494.10" width="3.10" height="0.9" fill="#999"/>
<rect x="264.65" y="520.30" width="4.90" height="23.00" fill="#464646" />
<rect x="264.65" y="543.30" width="4.90" height="31.30" fill="#3880BF" />
<rect x="264.65" y="574.60" width="4.90" height="4.40" fill="#F9D312" />
<rect x="264.65" y="579.00" width="4.90" height="1.00" fill="#5e1310" />
<text x="267.10" y="519.40" font-size="2.0" text-anchor="middle" fill="#000"  stroke="#000" stroke-width="0.043"></text>
<rect x="265.55" y="518.00" width="3.10" height="0.9" fill="#999"/>
<rect x="273.38" y="520.90" width="4.90" height="20.70" fill="#464646" />
<rect x="273.38" y="541.60" width="4.90" height="35.10" fill="#3880BF" />
<rect x="273.38" y="576.70" width="4.90" height="3.30" fill="#F9D312" />
<text x="275.83" y="520.00" font-size="2.0" text-anchor="middle" fill="#000"  stroke="#000" stroke-width="0.043"></text>
<rect x="274.28" y="518.60" width="3.10" height="0.9" fill="#999"/>
<rect x="282.11" y="531.50" width="4.90" height="24.80" fill="#464646" />
<rect x="282.11" y="556.30" width="4.90" height="20.00" fill="#3880BF" />
<rect x="282.11" y="576.30" width="4.90" height="1.60" fill="#F9D312" />
<rect x="282.11" y="577.90" width="4.90" height="2.10" fill="#5e1310" />
<text x="284.56" y="530.60" font-size="2.0" text-anchor="middle" fill="#000"  stroke="#000" stroke-width="0.043"></text>
<rect x="283.01" y="529.20" width="3.10" height="0.9" fill="#999"/>
<rect x="290.83" y="538.00" width="4.90" height="18.30" fill="#464646" />
<rect x="290.83" y="556.30" width="4.90" height="19.60" fill="#3880BF" />
<rect x="290.83" y="575.90" width="4.90" height="4.10" fill="#F9D312" />
<text x="293.28" y="537.10" font-size="2.0" text-anchor="middle" fill="#000"  stroke="#000" stroke-width="0.043"></text>
<rect x="291.73" y="535.70" width="3.10" height="0.9" fill="#999"/>
<rect x="299.56" y="540.60" width="4.90" height="16.40" fill="#464646" />
<rect x="299.56" y="557.00" width="4.90" height="17.20" fill="#3880BF" />
<rect x="299.56" y="574.20" width="4.90" height="4.80" fill="#F9D312" />
<rect x="299.56" y="579.00" width="4.90" height="1.00" fill="#5e1310" />
<text x="302.01" y="539.70" font-size="2.0" text-anchor="middle" fill="#000"  stroke="#000" stroke-width="0.043"></text>
<rect x="300.46" y="538.30" width="3.10" height="0.9" fill="#999"/>
<rect x="308.29" y="544.70" width="4.90" height="7.10" fill="#464646" />
<rect x="308.29" y="551.80" width="4.90" height="25.50" fill="#3880BF" />
<rect x="308.29" y="577.30" width="4.90" height="2.70" fill="#F9D312" />
<text x="310.74" y="543.80" font-size="2.0" text-anchor="middle" fill="#000"  stroke="#000" stroke-width="0.043"></text>
<rect x="309.19" y="542.40" width="3.10" height="0.9" fill="#999"/>
<rect x="317.02" y="545.30" width="4.90" height="13.70" fill="#464646" />
<rect x="317.02" y="559.00" width="4.90" height="19.00" fill="#3880BF" />
<rect x="317.02" y="578.00" width="4.90" height="2.00" fill="#F9D312" />
<text x="319.47" y="544.40" font-size="2.0" text-anchor="middle" fill="#000"  stroke="#000" stroke-width="0.043"></text>
<rect x="317.92" y="543.00" width="3.10" height="0.9" fill="#999"/>
<rect x="325.74" y="550.80" width="4.90" height="12.50" fill="#464646" />
<rect x="325.74" y="563.30" width="4.90" height="14.70" fill="#3880BF" />
<rect x="325.74" y="578.00" width="4.90" height="2.00" fill="#F9D312" />
<text x="328.19" y="549.90" font-size="2.0" text-anchor="middle" fill="#000"  stroke="#000" stroke-width="0.043"></text>
<rect x="326.64" y="548.50" width="3.10" height="0.9" fill="#999"/>
<rect x="334.47" y="557.50" width="4.90" height="10.60" fill="#464646" />
<rect x="334.47" y="568.10" width="4.90" height="10.40" fill="#3880BF" />
<rect x="334.47" y="578.50" width="4.90" height="1.50" fill="#F9D312" />
<text x="336.92" y="556.60" font-size="2.0" text-anchor="middle" fill="#000"  stroke="#000" stroke-width="0.043"></text>
<rect x="335.37" y="555.20" width="3.10" height="0.9" fill="#999"/>
<rect x="343.20" y="558.50" width="4.90" height="9.20" fill="#464646" />
<rect x="343.20" y="567.70" width="4.90" height="10.80" fill="#3880BF" />
<rect x="343.20" y="578.50" width="4.90" height="1.50" fill="#F9D312" />
<text x="345.65" y="557.60" font-size="2.0" text-anchor="middle" fill="#000"  stroke="#000" stroke-width="0.043"></text>
<rect x="344.10" y="556.20" width="3.10" height="0.9" fill="#999"/>
<rect x="351.92" y="559.00" width="4.90" height="5.60" fill="#464646" />
<rect x="351.92" y="564.60" width="4.90" height="13.90" fill="#3880BF" />
<rect x="351.92" y="578.50" width="4.90" height="1.50" fill="#F9D312" />
<text x="354.37" y="558.10" font-size="2.0" text-anchor="middle" fill="#000"  stroke="#000" stroke-width="0.043"></text>
<rect x="352.82" y="556.70" width="3.10" height="0.9" fill="#999"/>
<rect x="360.65" y="559.80" width="4.90" height="8.30" fill="#464646" />
<rect x="360.65" y="568.10" width="4.90" height="9.60" fill="#3880BF" />
<rect x="360.65" y="577.70" width="4.90" height="2.30" fill="#F9D312" />
<text x="363.10" y="558.90" font-size="2.0" text-anchor="middle" fill="#000"  stroke="#000" stroke-width="0.043"></text>
<rect x="361.55" y="557.50" width="3.10" height="0.9" fill="#999"/>
<rect x="369.38" y="560.80" width="4.90" height="9.60" fill="#464646" />
<rect x="369.38" y="570.40" width="4.90" height="8.10" fill="#3880BF" />
<rect x="369.38" y="578.50" width="4.90" height="1.50" fill="#F9D312" />
<text x="371.83" y="559.90" font-size="2.0" text-anchor="middle" fill="#000"  stroke="#000" stroke-width="0.043"></text>
<rect x="370.28" y="558.50" width="3.10" height="0.9" fill="#999"/>
<rect x="378.11" y="561.30" width="4.90" height="5.80" fill="#464646" />
<rect x="378.11" y="567.10" width="4.90" height="11.40" fill="#3880BF" />
<rect x="378.11" y="578.50" width="4.90" height="1.50" fill="#F9D312" />
<text x="380.56" y="560.40" font-size="2.0" text-anchor="middle" fill="#000"  stroke="#000" stroke-width="0.043"></text>
<rect x="379.00" y="559.00" width="3.10" height="0.9" fill="#999"/>
<rect x="386.83" y="564.80" width="4.90" height="1.20" fill="#464646" />
<rect x="386.83" y="566.00" width="4.90" height="12.80" fill="#3880BF" />
<rect x="386.83" y="578.80" width="4.90" height="1.20" fill="#F9D312" />
<text x="389.28" y="563.90" font-size="2.0" text-anchor="middle" fill="#000"  stroke="#000" stroke-width="0.043"></text>
<rect x="387.73" y="562.50" width="3.10" height="0.9" fill="#999"/>
<rect x="395.56" y="571.50" width="4.90" height="4.30" fill="#464646" />
<rect x="395.56" y="575.80" width="4.90" height="4.20" fill="#3880BF" />
<text x="398.01" y="570.60" font-size="2.0" text-anchor="middle" fill="#000"  stroke="#000" stroke-width="0.043"></text>
<rect x="396.46" y="569.20" width="3.10" height="0.9" fill="#999"/>
<rect x="404.29" y="573.30" width="4.90" height="2.50" fill="#464646" />
<rect x="404.29" y="575.80" width="4.90" height="4.20" fill="#3880BF" />
<text x="406.74" y="572.40" font-size="2.0" text-anchor="middle" fill="#000"  stroke="#000" stroke-width="0.043"></text>
<rect x="405.19" y="571.00" width="3.10" height="0.9" fill="#999"/>
<rect x="413.01" y="574.30" width="4.90" height="0.50" fill="#464646" />
<rect x="413.01" y="574.80" width="4.90" height="5.20" fill="#3880BF" />
<text x="415.46" y="573.40" font-size="2.0" text-anchor="middle" fill="#000"  stroke="#000" stroke-width="0.043"></text>
<rect x="413.91" y="572.00" width="3.10" height="0.9" fill="#999"/>
<rect x="421.74" y="574.90" width="4.90" height="5.10" fill="#464646" />
<text x="424.19" y="574.00" font-size="2.0" text-anchor="middle" fill="#000"  stroke="#000" stroke-width="0.043"></text>
<rect x="422.64" y="572.60" width="3.10" height="0.9" fill="#999"/>
<rect x="430.47" y="574.90" width="4.90" height="5.10" fill="#464646" />
<text x="432.92" y="574.00" font-size="2.0" text-anchor="middle" fill="#000"  stroke="#000" stroke-width="0.043"></text>
<rect x="431.37" y="572.60" width="3.10" height="0.9" fill="#999"/>
<rect x="439.19" y="577.00" width="4.90" height="0.50" fill="#464646" />
<rect x="439.19" y="577.50" width="4.90" height="2.50" fill="#3880BF" />
<text x="441.64" y="576.10" font-size="2.0" text-anchor="middle" fill="#000"  stroke="#000" stroke-width="0.043"></text>
<rect x="440.09" y="574.70" width="3.10" height="0.9" fill="#999"/>
<rect x="447.92" y="579.30" width="4.90" height="0.70" fill="#8a8a8a" />
<rect x="449.12" y="577.00" width="2.50" height="0.8" fill="#bbb"/>
<rect x="456.65" y="579.30" width="4.90" height="0.70" fill="#8a8a8a" />
<rect x="457.85" y="577.00" width="2.50" height="0.8" fill="#bbb"/>
<rect x="465.38" y="579.30" width="4.90" height="0.70" fill="#8a8a8a" />
<rect x="466.57" y="577.00" width="2.50" height="0.8" fill="#bbb"/>
<rect x="474.10" y="579.30" width="4.90" height="0.70" fill="#8a8a8a" />
<rect x="475.30" y="577.00" width="2.50" height="0.8" fill="#bbb"/>
<rect x="482.83" y="579.30" width="4.90" height="0.70" fill="#8a8a8a" />
<rect x="484.03" y="577.00" width="2.50" height="0.8" fill="#bbb"/>
<rect x="491.56" y="579.30" width="4.90" height="0.70" fill="#8a8a8a" />
<rect x="492.76" y="577.00" width="2.50" height="0.8" fill="#bbb"/>
<rect x="500.28" y="579.30" width="4.90" height="0.70" fill="#8a8a8a" />
<rect x="501.48" y="577.00" width="2.50" height="0.8" fill="#bbb"/>
<rect x="509.01" y="579.30" width="4.90" height="0.70" fill="#8a8a8a" />
<rect x="510.21" y="577.00" width="2.50" height="0.8" fill="#bbb"/>
<line x1="249.65" y1="581.50" x2="249.65" y2="638.00" stroke="#ececec" stroke-width="0.6"/>
<line x1="258.38" y1="581.50" x2="258.38" y2="638.00" stroke="#ececec" stroke-width="0.6"/>
<line x1="267.10" y1="581.50" x2="267.10" y2="638.00" stroke="#ececec" stroke-width="0.6"/>
<line x1="275.83" y1="581.50" x2="275.83" y2="638.00" stroke="#ececec" stroke-width="0.6"/>
<line x1="284.56" y1="581.50" x2="284.56" y2="638.00" stroke="#ececec" stroke-width="0.6"/>
<line x1="293.28" y1="581.50" x2="293.28" y2="638.00" stroke="#ececec" stroke-width="0.6"/>
<line x1="302.01" y1="581.50" x2="302.01" y2="638.00" stroke="#ececec" stroke-width="0.6"/>
<line x1="310.74" y1="581.50" x2="310.74" y2="638.00" stroke="#ececec" stroke-width="0.6"/>
<line x1="319.47" y1="581.50" x2="319.47" y2="638.00" stroke="#ececec" stroke-width="0.6"/>
<line x1="328.19" y1="581.50" x2="328.19" y2="638.00" stroke="#ececec" stroke-width="0.6"/>
<line x1="336.92" y1="581.50" x2="336.92" y2="638.00" stroke="#ececec" stroke-width="0.6"/>
<line x1="345.65" y1="581.50" x2="345.65" y2="638.00" stroke="#ececec" stroke-width="0.6"/>
<line x1="354.37" y1="581.50" x2="354.37" y2="638.00" stroke="#ececec" stroke-width="0.6"/>
<line x1="363.10" y1="581.50" x2="363.10" y2="638.00" stroke="#ececec" stroke-width="0.6"/>
<line x1="371.83" y1="581.50" x2="371.83" y2="638.00" stroke="#ececec" stroke-width="0.6"/>
<line x1="380.56" y1="581.50" x2="380.56" y2="638.00" stroke="#ececec" stroke-width="0.6"/>
<line x1="389.28" y1="581.50" x2="389.28" y2="638.00" stroke="#ececec" stroke-width="0.6"/>
<line x1="398.01" y1="581.50" x2="398.01" y2="638.00" stroke="#ececec" stroke-width="0.6"/>
<line x1="406.74" y1="581.50" x2="406.74" y2="638.00" stroke="#ececec" stroke-width="0.6"/>
<line x1="415.46" y1="581.50" x2="415.46" y2="638.00" stroke="#ececec" stroke-width="0.6"/>
<line x1="424.19" y1="581.50" x2="424.19" y2="638.00" stroke="#ececec" stroke-width="0.6"/>
<line x1="432.92" y1="581.50" x2="432.92" y2="638.00" stroke="#ececec" stroke-width="0.6"/>
<line x1="441.64" y1="581.50" x2="441.64" y2="638.00" stroke="#ececec" stroke-width="0.6"/>
<line x1="450.37" y1="581.50" x2="450.37" y2="638.00" stroke="#ececec" stroke-width="0.6"/>
<line x1="459.10" y1="581.50" x2="459.10" y2="638.00" stroke="#ececec" stroke-width="0.6"/>
<line x1="467.82" y1="581.50" x2="467.82" y2="638.00" stroke="#ececec" stroke-width="0.6"/>
<line x1="476.55" y1="581.50" x2="476.55" y2="638.00" stroke="#ececec" stroke-width="0.6"/>
<line x1="485.28" y1="581.50" x2="485.28" y2="638.00" stroke="#ececec" stroke-width="0.6"/>
<line x1="494.01" y1="581.50" x2="494.01" y2="638.00" stroke="#ececec" stroke-width="0.6"/>
<line x1="502.73" y1="581.50" x2="502.73" y2="638.00" stroke="#ececec" stroke-width="0.6"/>
<line x1="511.46" y1="581.50" x2="511.46" y2="638.00" stroke="#ececec" stroke-width="0.6"/>
<line x1="241.50" y1="583.70" x2="520.00" y2="583.70" stroke="#f2f2f2" stroke-width="0.5"/>
<rect x="231.9" y="582.70" width="7.3" height="1.9" fill="#7a7a7a"/>
<line x1="241.50" y1="586.00" x2="520.00" y2="586.00" stroke="#f2f2f2" stroke-width="0.5"/>
<rect x="231.9" y="585.00" width="7.3" height="1.9" fill="#7a7a7a"/>
<line x1="241.50" y1="588.30" x2="520.00" y2="588.30" stroke="#f2f2f2" stroke-width="0.5"/>
<rect x="231.9" y="587.30" width="7.3" height="1.9" fill="#7a7a7a"/>
<line x1="241.50" y1="590.60" x2="520.00" y2="590.60" stroke="#f2f2f2" stroke-width="0.5"/>
<rect x="231.9" y="589.60" width="7.3" height="1.9" fill="#7a7a7a"/>
<line x1="241.50" y1="592.90" x2="520.00" y2="592.90" stroke="#f2f2f2" stroke-width="0.5"/>
<rect x="231.9" y="591.90" width="7.3" height="1.9" fill="#7a7a7a"/>
<line x1="241.50" y1="595.20" x2="520.00" y2="595.20" stroke="#f2f2f2" stroke-width="0.5"/>
<rect x="231.9" y="594.20" width="7.3" height="1.9" fill="#7a7a7a"/>
<line x1="241.50" y1="597.50" x2="520.00" y2="597.50" stroke="#f2f2f2" stroke-width="0.5"/>
<rect x="231.9" y="596.50" width="7.3" height="1.9" fill="#7a7a7a"/>
<line x1="241.50" y1="599.80" x2="520.00" y2="599.80" stroke="#f2f2f2" stroke-width="0.5"/>
<rect x="231.9" y="598.80" width="7.3" height="1.9" fill="#7a7a7a"/>
<line x1="241.50" y1="602.10" x2="520.00" y2="602.10" stroke="#f2f2f2" stroke-width="0.5"/>
<rect x="231.9" y="601.10" width="7.3" height="1.9" fill="#7a7a7a"/>
<line x1="241.50" y1="604.40" x2="520.00" y2="604.40" stroke="#f2f2f2" stroke-width="0.5"/>
<rect x="231.9" y="603.40" width="7.3" height="1.9" fill="#7a7a7a"/>
<line x1="241.50" y1="606.70" x2="520.00" y2="606.70" stroke="#f2f2f2" stroke-width="0.5"/>
<rect x="231.9" y="605.70" width="7.3" height="1.9" fill="#7a7a7a"/>
<line x1="241.50" y1="609.00" x2="520.00" y2="609.00" stroke="#f2f2f2" stroke-width="0.5"/>
<rect x="231.9" y="608.00" width="7.3" height="1.9" fill="#7a7a7a"/>
<line x1="241.50" y1="611.30" x2="520.00" y2="611.30" stroke="#f2f2f2" stroke-width="0.5"/>
<rect x="231.9" y="610.30" width="7.3" height="1.9" fill="#7a7a7a"/>
<line x1="241.50" y1="613.60" x2="520.00" y2="613.60" stroke="#f2f2f2" stroke-width="0.5"/>
<rect x="231.9" y="612.60" width="7.3" height="1.9" fill="#7a7a7a"/>
<line x1="241.50" y1="615.90" x2="520.00" y2="615.90" stroke="#f2f2f2" stroke-width="0.5"/>
<rect x="231.9" y="614.90" width="7.3" height="1.9" fill="#7a7a7a"/>
<line x1="241.50" y1="618.20" x2="520.00" y2="618.20" stroke="#f2f2f2" stroke-width="0.5"/>
<rect x="231.9" y="617.20" width="7.3" height="1.9" fill="#7a7a7a"/>
<line x1="241.50" y1="620.50" x2="520.00" y2="620.50" stroke="#f2f2f2" stroke-width="0.5"/>
<rect x="231.9" y="619.50" width="7.3" height="1.9" fill="#7a7a7a"/>
<line x1="241.50" y1="622.80" x2="520.00" y2="622.80" stroke="#f2f2f2" stroke-width="0.5"/>
<rect x="231.9" y="621.80" width="7.3" height="1.9" fill="#7a7a7a"/>
<line x1="241.50" y1="625.10" x2="520.00" y2="625.10" stroke="#f2f2f2" stroke-width="0.5"/>
<rect x="231.9" y="624.10" width="7.3" height="1.9" fill="#7a7a7a"/>
<line x1="241.50" y1="627.40" x2="520.00" y2="627.40" stroke="#f2f2f2" stroke-width="0.5"/>
<rect x="231.9" y="626.40" width="7.3" height="1.9" fill="#7a7a7a"/>
<line x1="241.50" y1="629.70" x2="520.00" y2="629.70" stroke="#f2f2f2" stroke-width="0.5"/>
<rect x="231.9" y="628.70" width="7.3" height="1.9" fill="#7a7a7a"/>
<line x1="241.50" y1="632.00" x2="520.00" y2="632.00" stroke="#f2f2f2" stroke-width="0.5"/>
<rect x="231.9" y="631.00" width="7.3" height="1.9" fill="#7a7a7a"/>
<line x1="241.50" y1="634.30" x2="520.00" y2="634.30" stroke="#f2f2f2" stroke-width="0.5"/>
<rect x="231.9" y="633.30" width="7.3" height="1.9" fill="#7a7a7a"/>
<circle cx="249.65" cy="634.30" r="1.05" fill="#222"/>
<circle cx="258.38" cy="632.00" r="1.05" fill="#222"/>
<circle cx="267.10" cy="627.40" r="1.05" fill="#222"/>
<circle cx="275.83" cy="629.70" r="1.05" fill="#222"/>
<circle cx="284.56" cy="625.10" r="1.05" fill="#222"/>
<circle cx="293.28" cy="622.80" r="1.05" fill="#222"/>
<circle cx="302.01" cy="620.50" r="1.05" fill="#222"/>
<circle cx="310.74" cy="615.90" r="1.05" fill="#222"/>
<circle cx="319.47" cy="618.20" r="1.05" fill="#222"/>
<circle cx="328.19" cy="613.60" r="1.05" fill="#222"/>
<circle cx="336.92" cy="611.30" r="1.05" fill="#222"/>
<circle cx="345.65" cy="606.70" r="1.05" fill="#222"/>
<circle cx="354.37" cy="609.00" r="1.05" fill="#222"/>
<circle cx="363.10" cy="604.40" r="1.05" fill="#222"/>
<circle cx="371.83" cy="602.10" r="1.05" fill="#222"/>
<circle cx="380.56" cy="599.80" r="1.05" fill="#222"/>
<circle cx="389.28" cy="597.50" r="1.05" fill="#222"/>
<circle cx="398.01" cy="595.20" r="1.05" fill="#222"/>
<circle cx="406.74" cy="592.90" r="1.05" fill="#222"/>
<circle cx="415.46" cy="590.60" r="1.05" fill="#222"/>
<circle cx="424.19" cy="588.30" r="1.05" fill="#222"/>
<circle cx="432.92" cy="586.00" r="1.05" fill="#222"/>
<circle cx="441.64" cy="583.70" r="1.05" fill="#222"/>
<line x1="450.37" y1="609.00" x2="450.37" y2="613.60" stroke="#222" stroke-width="0.7"/>
<circle cx="450.37" cy="609.00" r="1.05" fill="#222"/>
<circle cx="450.37" cy="613.60" r="1.05" fill="#222"/>
<line x1="459.10" y1="611.30" x2="459.10" y2="613.60" stroke="#222" stroke-width="0.7"/>
<circle cx="459.10" cy="611.30" r="1.05" fill="#222"/>
<circle cx="459.10" cy="613.60" r="1.05" fill="#222"/>
<line x1="467.82" y1="618.20" x2="467.82" y2="629.70" stroke="#222" stroke-width="0.7"/>
<circle cx="467.82" cy="618.20" r="1.05" fill="#222"/>
<circle cx="467.82" cy="629.70" r="1.05" fill="#222"/>
<line x1="476.55" y1="597.50" x2="476.55" y2="632.00" stroke="#222" stroke-width="0.7"/>
<circle cx="476.55" cy="597.50" r="1.05" fill="#222"/>
<circle cx="476.55" cy="632.00" r="1.05" fill="#222"/>
<line x1="485.28" y1="618.20" x2="485.28" y2="632.00" stroke="#222" stroke-width="0.7"/>
<circle cx="485.28" cy="618.20" r="1.05" fill="#222"/>
<circle cx="485.28" cy="632.00" r="1.05" fill="#222"/>
<line x1="494.01" y1="622.80" x2="494.01" y2="634.30" stroke="#222" stroke-width="0.7"/>
<circle cx="494.01" cy="622.80" r="1.05" fill="#222"/>
<circle cx="494.01" cy="634.30" r="1.05" fill="#222"/>
<line x1="502.73" y1="629.70" x2="502.73" y2="634.30" stroke="#222" stroke-width="0.7"/>
<circle cx="502.73" cy="629.70" r="1.05" fill="#222"/>
<circle cx="502.73" cy="634.30" r="1.05" fill="#222"/>
<line x1="511.46" y1="611.30" x2="511.46" y2="629.70" stroke="#222" stroke-width="0.7"/>
<circle cx="511.46" cy="611.30" r="1.05" fill="#222"/>
<circle cx="511.46" cy="613.60" r="1.05" fill="#222"/>
<circle cx="511.46" cy="629.70" r="1.05" fill="#222"/>
</svg>
</body></html>
